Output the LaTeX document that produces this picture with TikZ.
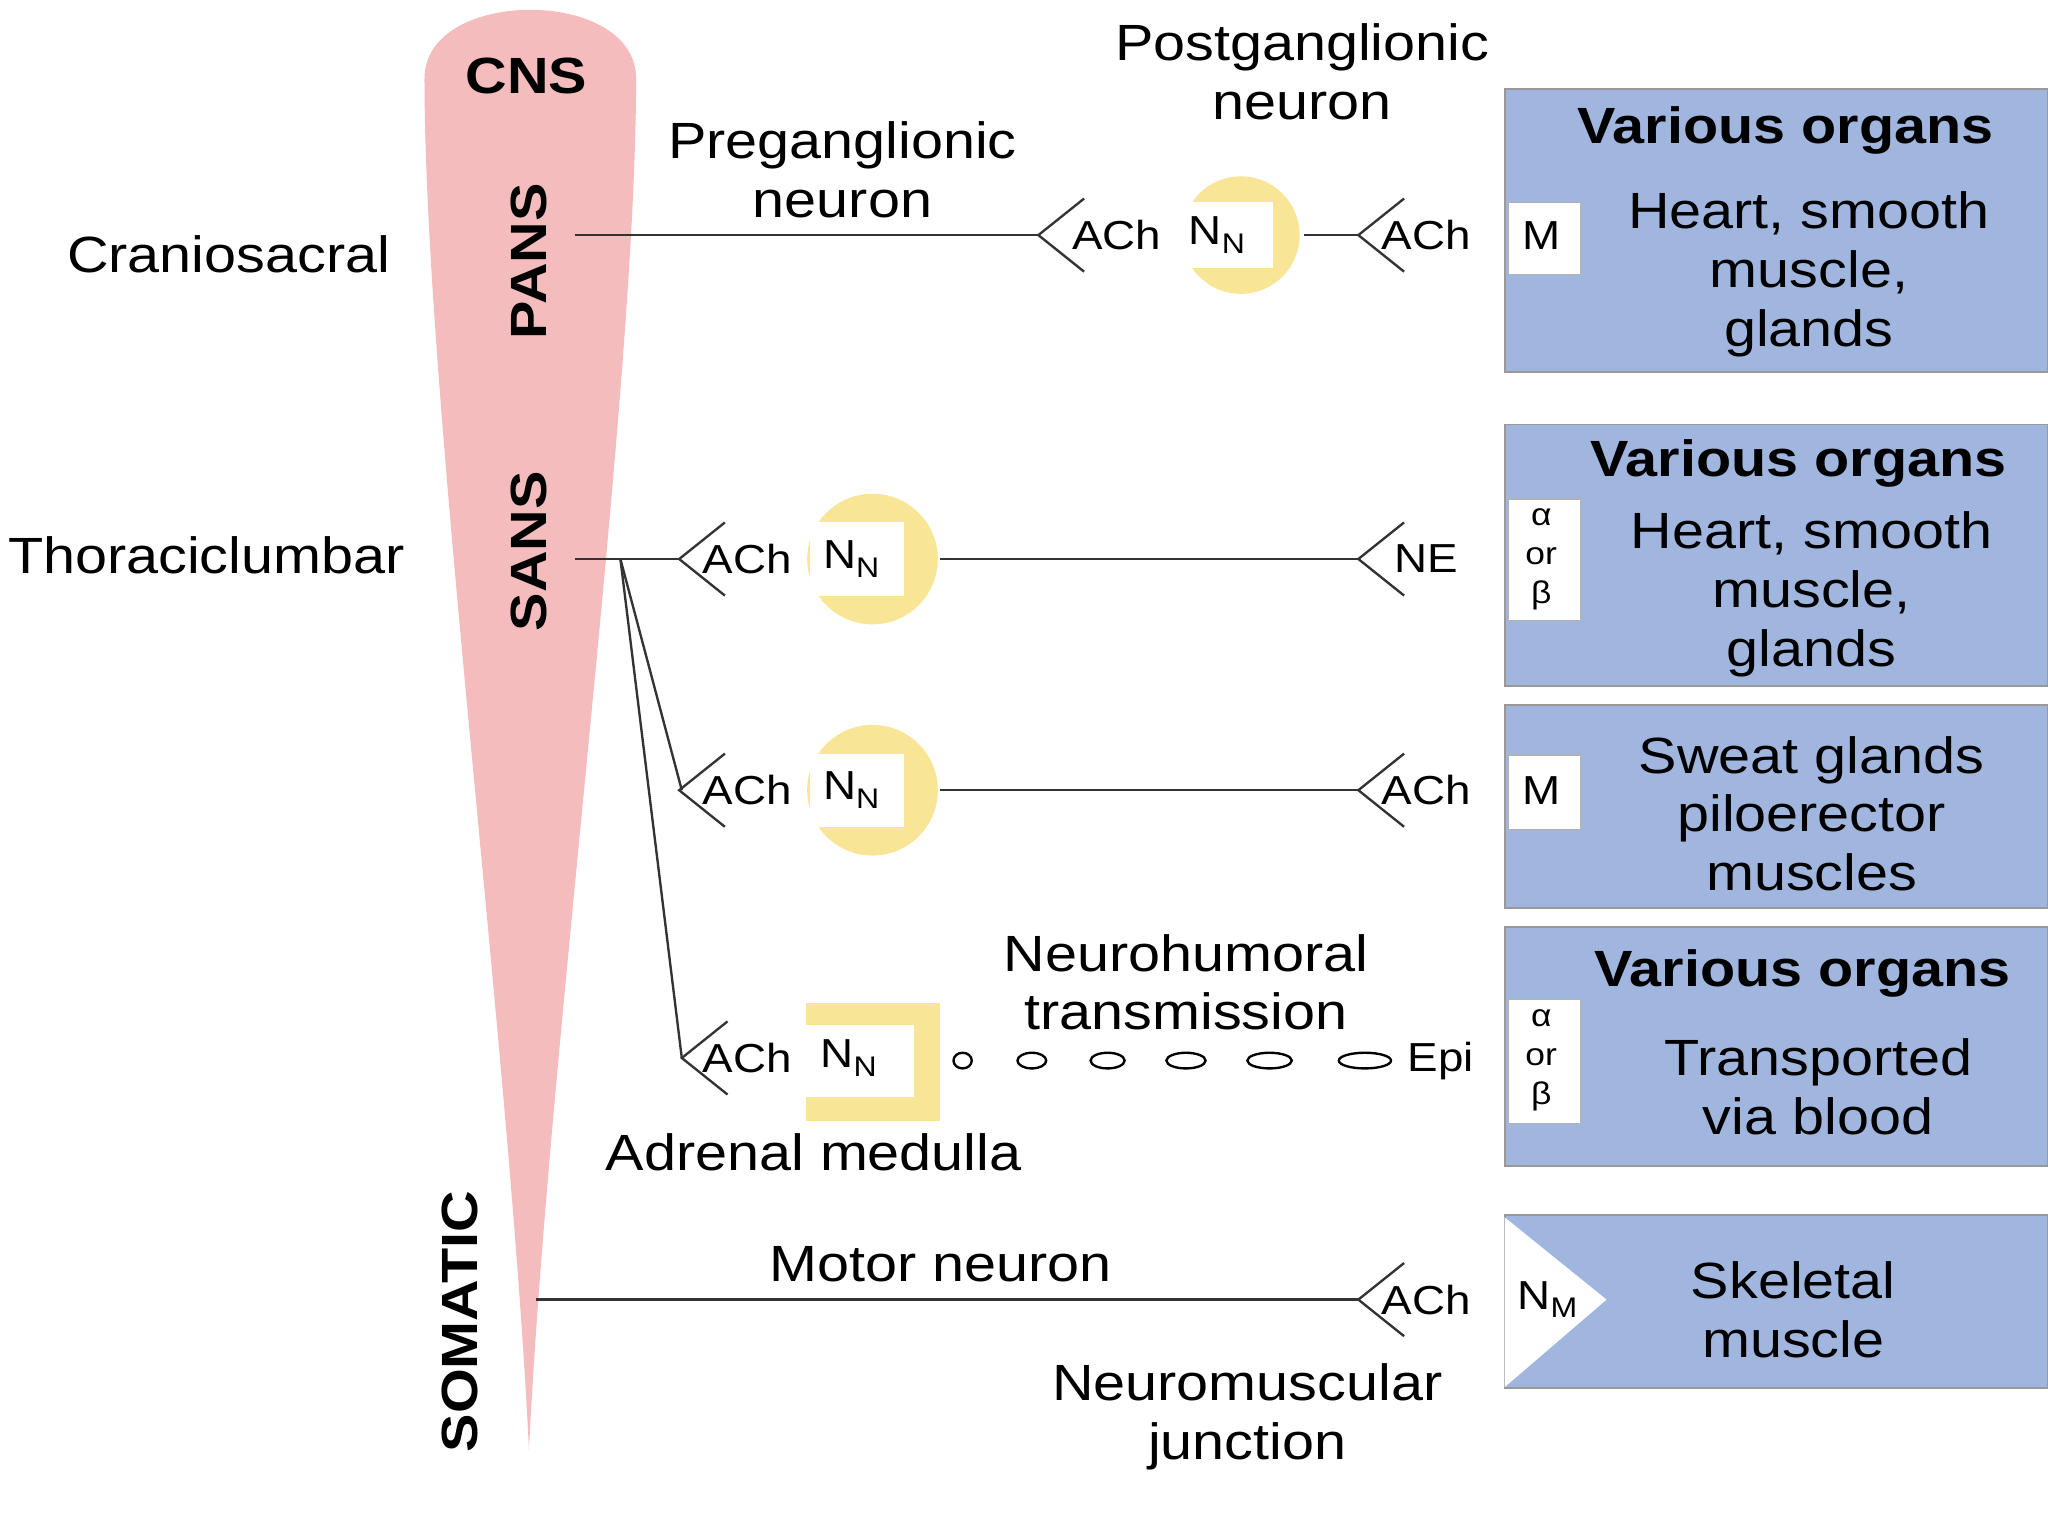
\documentclass[tikz,border=0pt]{standalone}
\usepackage{fontspec}
\setmainfont[FakeStretch=1.13]{Liberation Sans}
\definecolor{cnspink}{RGB}{245,188,190}
\definecolor{organblue}{RGB}{160,182,222}
\definecolor{ganyel}{RGB}{248,230,150}
\begin{document}
\begin{tikzpicture}[x=1pt,y=-1pt,
  txt/.style={font=\fontsize{39}{45}\selectfont,align=center,inner sep=0},
  sm/.style={font=\fontsize{31}{32}\selectfont,inner sep=0},
  bold/.style={txt,font=\fontsize{39}{45}\selectfont\bfseries},
  organ/.style={draw=black!40,fill=organblue,line width=1.5},
  wbox/.style={draw=black!30,fill=white,line width=1},
  nerve/.style={line width=1.8,black!80},
  yel/.style={fill=ganyel},
  fork/.pic={\draw[nerve] (35,-28) -- (0,0) -- (35,28);}]
\useasboundingbox (0,0) rectangle (1568,1176);
\fill[white] (0,0) rectangle (1568,1176);
% CNS taper
\fill[cnspink] (325,60) .. controls (325,-10) and (487,-10) .. (487,60) .. controls (487,300) and (420,800) .. (405,1110) .. controls (390,800) and (325,300) .. (325,60) -- cycle;
\node[bold] (cns) at (403,58) {CNS};
\node[bold,rotate=90] (pans) at (405,200) {PANS};
\node[bold,rotate=90] (sans) at (405,422) {SANS};
\node[bold,rotate=90] (som) at (352,1012) {SOMATIC};
\node[txt] (cran) at (175,195) {Craniosacral};
\node[txt] (thor) at (158,425) {Thoraciclumbar};
\node[txt] (post) at (997,55) {Postganglionic\\neuron};
\node[txt] (pre) at (645,130) {Preganglionic\\neuron};
% organ boxes
\draw[organ] (1152,68) rectangle (1568,285);
\node[bold] at (1367,100) {Various organs};
\draw[wbox] (1155,155) rectangle (1210,210); \node[sm] at (1180,180) {M};
\node[txt] at (1385,210) {Heart, smooth\\muscle,\\glands};
\draw[organ] (1152,325) rectangle (1568,525);
\node[bold] at (1377,355) {Various organs};
\draw[wbox] (1155,382) rectangle (1210,475);
\node[sm,align=center,font=\fontsize{24}{30}\selectfont] at (1180,428) {α\\or\\β};
\node[txt] at (1387,455) {Heart, smooth\\muscle,\\glands};
\draw[organ] (1152,540) rectangle (1568,695);
\draw[wbox] (1155,578) rectangle (1210,635); \node[sm] at (1180,605) {M};
\node[txt] at (1387,623) {Sweat glands\\piloerector\\muscles};
\draw[organ] (1152,710) rectangle (1568,893);
\node[bold] at (1380,745) {Various organs};
\draw[wbox] (1155,765) rectangle (1210,860);
\node[sm,align=center,font=\fontsize{24}{30}\selectfont] at (1180,812) {α\\or\\β};
\node[txt] at (1392,832) {Transported\\via blood};
\draw[organ] (1152,930) rectangle (1568,1063);
\fill[white] (1152,932) -- (1230,995) -- (1152,1062) -- cycle;
\node[sm] at (1185,995) {N\textsubscript{M}};
\node[txt] at (1373,1003) {Skeletal\\muscle};
% PANS row
\coordinate (p0) at (440,180); \coordinate (p1) at (795,180);
\draw[nerve] (p0) -- (p1); \pic at (p1) {fork};
\node[sm] at (855,180) {ACh};
\fill[yel] (950,180) circle (45);
\fill[white] (905,155) rectangle (975,205);
\node[sm] at (932,180) {N\textsubscript{N}};
\coordinate (p2) at (998,180); \coordinate (p3) at (1040,180);
\draw[nerve] (p2) -- (p3); \pic at (p3) {fork};
\node[sm] at (1092,180) {ACh};
% SANS
\coordinate (s0) at (440,428); \coordinate (s1) at (475,428);
\coordinate (a1) at (520,428); \coordinate (a2) at (522,605); \coordinate (a3) at (522,810);
\draw[nerve] (s0) -- (a1); \draw[nerve] (s1) -- (a2); \draw[nerve] (s1) -- (a3);
\foreach \y in {428,605} {
  \pic at (520,\y) {fork};
  \node[sm] at (572,\y) {ACh};
  \fill[yel] (668,\y) circle (50);
  \fill[white] (620,\y-28) rectangle (692,\y+28);
  \node[sm] at (652,\y) {N\textsubscript{N}};
  \draw[nerve] (720,\y) -- (1040,\y); \pic at (1040,\y) {fork};
}
\node[sm] at (1092,428) {NE};
\node[sm] at (1092,605) {ACh};
\pic at (522,810) {fork};
\node[sm] at (572,810) {ACh};
\fill[yel] (617,768) rectangle (720,858);
\fill[white] (617,785) rectangle (700,840);
\node[sm] at (650,810) {N\textsubscript{N}};
\foreach \x/\r in {737/7,790/11,848/13,908/15,972/17,1045/20} \draw[line width=1.8] (\x,812) ellipse (\r pt and 6pt);
\node[sm] at (1103,812) {Epi};
\node[txt] at (908,752) {Neurohumoral\\transmission};
\node[txt] at (623,882) {Adrenal medulla};
% somatic
\coordinate (m0) at (410,995); \coordinate (m1) at (1040,995);
\draw[nerve] (m0) -- (m1); \pic at (m1) {fork};
\node[sm] at (1092,995) {ACh};
\node[txt] at (720,968) {Motor neuron};
\node[txt] at (955,1085) {Neuromuscular\\junction};
\end{tikzpicture}
\end{document}
